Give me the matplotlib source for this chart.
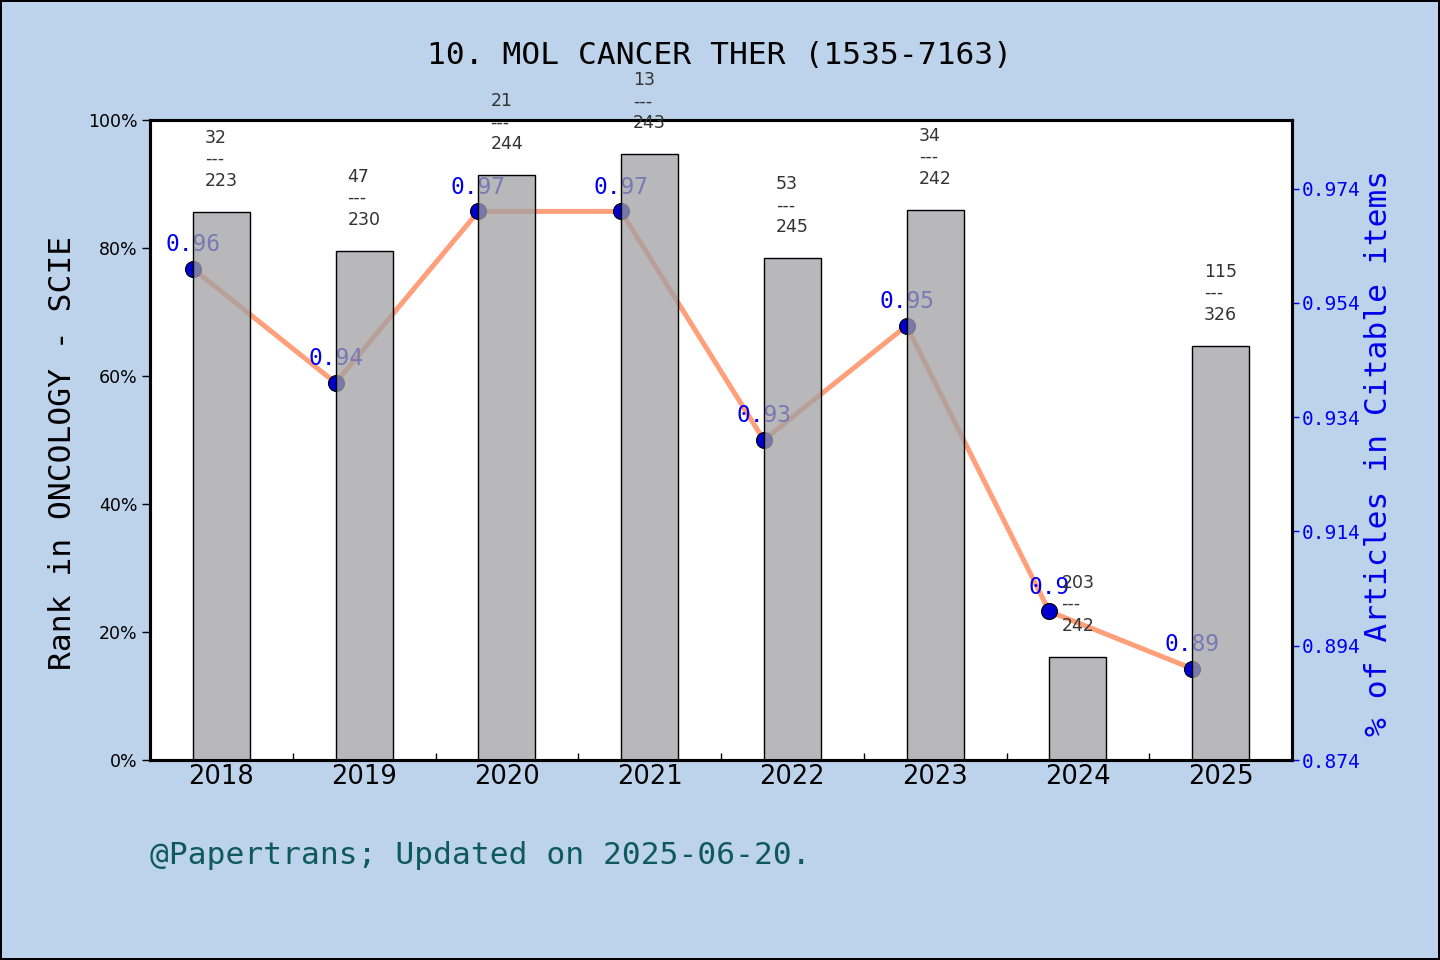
import matplotlib.pyplot as plt
import numpy as np

years = ['2018', '2019', '2020', '2021', '2022', '2023', '2024', '2025']
rank = [32, 47, 21, 13, 53, 34, 203, 115]
total = [223, 230, 244, 243, 245, 242, 242, 326]
citable = [0.96, 0.94, 0.97, 0.97, 0.93, 0.95, 0.90, 0.89]

mono = 'DejaVu Sans Mono'
bg = '#BDD3EB'

pct = [1 - r / t for r, t in zip(rank, total)]
x = np.arange(len(years))
w = 0.4

fig = plt.figure(figsize=(14.4, 9.6), dpi=100, facecolor=bg,
                 edgecolor='black', linewidth=1.5)
ax = fig.add_axes([150 / 1440, 1 - 760 / 960, 1142 / 1440, 640 / 960])
ax2 = ax.twinx()
ax.set_zorder(ax2.get_zorder() + 1)
ax.patch.set_visible(False)
ax2.patch.set_visible(True)
ax2.patch.set_facecolor('white')

# line on the right axis (drawn underneath the bars)
ax2.plot(x, citable, color='#FFA07A', lw=3.6, zorder=2)
ax2.plot(x, citable, 'o', ms=11.5, mfc='#0000CD', mec='black', mew=0.8, zorder=3)
for xi, v in zip(x, citable):
    ax2.annotate(f'{v:g}', (xi, v), xytext=(0, 9), textcoords='offset points',
                 ha='center', va='bottom', color='#0000EE', fontsize=16.5,
                 family=mono, zorder=4)
lo, hi = min(citable) - 0.016, max(citable) + 0.016
ax2.set_ylim(lo, hi)
ticks = np.arange(0.874, 0.975, 0.02)
ax2.set_yticks(ticks)
ax2.set_yticklabels([f'{t:.3f}' for t in ticks], family=mono, fontsize=14, color='#0000EE')
ax2.tick_params(axis='y', colors='#0000EE', length=5, width=1, pad=2)
ax2.set_ylabel('% of Articles in Citable items', family=mono, fontsize=22.5, color='#0000EE')
ax2.yaxis.set_label_coords(1.063, 0.48)

# bars on the left axis, starting at each point
ax.bar(x, pct, width=w, align='edge', facecolor=(0.63, 0.63, 0.64, 0.75),
       edgecolor='black', lw=1)
for xi, p, r, t in zip(x, pct, rank, total):
    ax.annotate(f'{r}\n---\n{t}', (xi + w / 2, p), xytext=(0, 16), textcoords='offset points',
                ha='center', va='bottom', multialignment='left', fontsize=12.5,
                color='#333333', linespacing=1.25, annotation_clip=False)
ax.set_ylim(0, 1)
ax.set_xlim(-0.3, len(years) - 0.3)
ax.set_yticks(np.arange(0, 1.01, 0.2))
ax.set_yticklabels([f'{int(round(t * 100))}%' for t in np.arange(0, 1.01, 0.2)], fontsize=12.5)
ax.tick_params(axis='y', length=6, width=1, pad=3)
ax.set_xticks(x + w / 2)
ax.set_xticklabels(years, fontsize=18.5)
ax.tick_params(axis='x', length=0, pad=3)
ax.set_xticks(x[:-1] + 0.7, minor=True)
ax.tick_params(axis='x', which='minor', direction='in', length=5, width=1)
ax.set_ylabel('Rank in ONCOLOGY - SCIE', family=mono, fontsize=22.5)
ax.yaxis.set_label_coords(-0.064, 0.48)

for a in (ax, ax2):
    for s in a.spines.values():
        s.set_linewidth(2.2)
        s.set_color('black')

fig.text(0.5, 1 - 56 / 960, '10. MOL CANCER THER (1535-7163)', family=mono,
         fontsize=22.5, ha='center', va='center')
fig.text(150 / 1440, 1 - 855 / 960, '@Papertrans; Updated on 2025-06-20.', family=mono,
         fontsize=22.5, ha='left', va='center', color='#0E5A5A')

fig.savefig('out.png', dpi=100, facecolor=bg, edgecolor='black')
